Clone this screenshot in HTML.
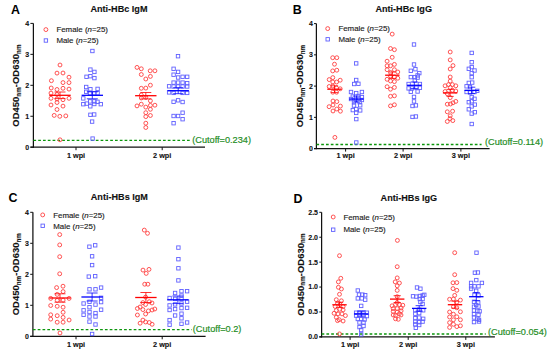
<!DOCTYPE html>
<html><head><meta charset="utf-8"><title>figure</title>
<style>
html,body{margin:0;padding:0;background:#fff;}
body{width:550px;height:353px;overflow:hidden;}
svg{display:block;}
text{font-family:"Liberation Sans",sans-serif;}
.pl{font-size:12.4px;font-weight:bold;fill:#000;}
.ti{font-size:9.1px;font-weight:bold;fill:#111;stroke:#111;stroke-width:0.12px;}
.tk{font-size:7px;font-weight:bold;fill:#111;stroke:#111;stroke-width:0.1px;}
.xl{font-size:7.3px;font-weight:bold;fill:#111;stroke:#111;stroke-width:0.12px;}
.ct{font-size:9.2px;fill:#1e8c1e;stroke:#1e8c1e;stroke-width:0.18px;}
.lg{font-size:7.9px;fill:#222;stroke:#222;stroke-width:0.15px;}
.yt{font-size:9.5px;font-weight:bold;fill:#111;stroke:#111;stroke-width:0.1px;}
.sub{font-size:6.3px;}
</style></head>
<body>
<svg width="550" height="353" viewBox="0 0 550 353">
<rect width="550" height="353" fill="#fff"/>
<line x1="33.4" y1="23.40" x2="33.4" y2="147.80" stroke="#111" stroke-width="1.25"/>
<line x1="30.4" y1="147.2" x2="205.0" y2="147.2" stroke="#111" stroke-width="1.3"/>
<line x1="30.4" y1="147.20" x2="33.4" y2="147.20" stroke="#111" stroke-width="1.0"/>
<text x="29.10" y="149.60" class="tk" text-anchor="end">0</text>
<line x1="30.4" y1="116.25" x2="33.4" y2="116.25" stroke="#111" stroke-width="1.0"/>
<text x="29.10" y="118.65" class="tk" text-anchor="end">1</text>
<line x1="30.4" y1="85.30" x2="33.4" y2="85.30" stroke="#111" stroke-width="1.0"/>
<text x="29.10" y="87.70" class="tk" text-anchor="end">2</text>
<line x1="30.4" y1="54.35" x2="33.4" y2="54.35" stroke="#111" stroke-width="1.0"/>
<text x="29.10" y="56.75" class="tk" text-anchor="end">3</text>
<line x1="30.4" y1="23.40" x2="33.4" y2="23.40" stroke="#111" stroke-width="1.0"/>
<text x="29.10" y="25.80" class="tk" text-anchor="end">4</text>
<line x1="76.0" y1="147.2" x2="76.0" y2="150.2" stroke="#111" stroke-width="1.0"/>
<text x="76.0" y="157.7" class="xl" text-anchor="middle">1 wpi</text>
<line x1="162.2" y1="147.2" x2="162.2" y2="150.2" stroke="#111" stroke-width="1.0"/>
<text x="162.2" y="157.7" class="xl" text-anchor="middle">2 wpi</text>
<line x1="33.4" y1="140.30" x2="191.5" y2="140.30" stroke="#0c960c" stroke-width="1.3" stroke-dasharray="2.7 2.1"/>
<text x="192.2" y="142.5" class="ct">(Cutoff=0.234)</text>
<line x1="316.4" y1="23.60" x2="316.4" y2="149.20" stroke="#111" stroke-width="1.25"/>
<line x1="314.0" y1="148.6" x2="489.6" y2="148.6" stroke="#111" stroke-width="1.3"/>
<line x1="314.0" y1="148.60" x2="316.4" y2="148.60" stroke="#111" stroke-width="1.0"/>
<text x="312.80" y="151.00" class="tk" text-anchor="end">0</text>
<line x1="314.0" y1="117.35" x2="316.4" y2="117.35" stroke="#111" stroke-width="1.0"/>
<text x="312.80" y="119.75" class="tk" text-anchor="end">1</text>
<line x1="314.0" y1="86.10" x2="316.4" y2="86.10" stroke="#111" stroke-width="1.0"/>
<text x="312.80" y="88.50" class="tk" text-anchor="end">2</text>
<line x1="314.0" y1="54.85" x2="316.4" y2="54.85" stroke="#111" stroke-width="1.0"/>
<text x="312.80" y="57.25" class="tk" text-anchor="end">3</text>
<line x1="314.0" y1="23.60" x2="316.4" y2="23.60" stroke="#111" stroke-width="1.0"/>
<text x="312.80" y="26.00" class="tk" text-anchor="end">4</text>
<line x1="345.6" y1="148.6" x2="345.6" y2="151.6" stroke="#111" stroke-width="1.0"/>
<text x="345.6" y="158.1" class="xl" text-anchor="middle">1 wpi</text>
<line x1="403.1" y1="148.6" x2="403.1" y2="151.6" stroke="#111" stroke-width="1.0"/>
<text x="403.1" y="158.1" class="xl" text-anchor="middle">2 wpi</text>
<line x1="460.9" y1="148.6" x2="460.9" y2="151.6" stroke="#111" stroke-width="1.0"/>
<text x="460.9" y="158.1" class="xl" text-anchor="middle">3 wpi</text>
<line x1="316.4" y1="144.50" x2="481.6" y2="144.50" stroke="#0c960c" stroke-width="1.3" stroke-dasharray="2.7 2.1"/>
<text x="485.0" y="145.4" class="ct">(Cutoff=0.114)</text>
<line x1="32.9" y1="212.30" x2="32.9" y2="336.90" stroke="#111" stroke-width="1.25"/>
<line x1="30.2" y1="336.3" x2="205.6" y2="336.3" stroke="#111" stroke-width="1.3"/>
<line x1="30.2" y1="336.30" x2="32.9" y2="336.30" stroke="#111" stroke-width="1.0"/>
<text x="28.90" y="338.70" class="tk" text-anchor="end">0</text>
<line x1="30.2" y1="305.30" x2="32.9" y2="305.30" stroke="#111" stroke-width="1.0"/>
<text x="28.90" y="307.70" class="tk" text-anchor="end">1</text>
<line x1="30.2" y1="274.30" x2="32.9" y2="274.30" stroke="#111" stroke-width="1.0"/>
<text x="28.90" y="276.70" class="tk" text-anchor="end">2</text>
<line x1="30.2" y1="243.30" x2="32.9" y2="243.30" stroke="#111" stroke-width="1.0"/>
<text x="28.90" y="245.70" class="tk" text-anchor="end">3</text>
<line x1="30.2" y1="212.30" x2="32.9" y2="212.30" stroke="#111" stroke-width="1.0"/>
<text x="28.90" y="214.70" class="tk" text-anchor="end">4</text>
<line x1="76.0" y1="336.3" x2="76.0" y2="339.3" stroke="#111" stroke-width="1.0"/>
<text x="76.0" y="347.2" class="xl" text-anchor="middle">1 wpi</text>
<line x1="162.2" y1="336.3" x2="162.2" y2="339.3" stroke="#111" stroke-width="1.0"/>
<text x="162.2" y="347.2" class="xl" text-anchor="middle">2 wpi</text>
<line x1="32.9" y1="329.70" x2="191.8" y2="329.70" stroke="#0c960c" stroke-width="1.3" stroke-dasharray="2.7 2.1"/>
<text x="192.8" y="332.4" class="ct">(Cutoff=0.2)</text>
<line x1="321.6" y1="212.30" x2="321.6" y2="337.50" stroke="#111" stroke-width="1.25"/>
<line x1="319.3" y1="336.9" x2="494.9" y2="336.9" stroke="#111" stroke-width="1.3"/>
<line x1="319.3" y1="336.90" x2="321.6" y2="336.90" stroke="#111" stroke-width="1.0"/>
<text x="318.00" y="339.30" class="tk" text-anchor="end">0.0</text>
<line x1="319.3" y1="311.98" x2="321.6" y2="311.98" stroke="#111" stroke-width="1.0"/>
<text x="318.00" y="314.38" class="tk" text-anchor="end">0.5</text>
<line x1="319.3" y1="287.06" x2="321.6" y2="287.06" stroke="#111" stroke-width="1.0"/>
<text x="318.00" y="289.46" class="tk" text-anchor="end">1.0</text>
<line x1="319.3" y1="262.14" x2="321.6" y2="262.14" stroke="#111" stroke-width="1.0"/>
<text x="318.00" y="264.54" class="tk" text-anchor="end">1.5</text>
<line x1="319.3" y1="237.22" x2="321.6" y2="237.22" stroke="#111" stroke-width="1.0"/>
<text x="318.00" y="239.62" class="tk" text-anchor="end">2.0</text>
<line x1="319.3" y1="212.30" x2="321.6" y2="212.30" stroke="#111" stroke-width="1.0"/>
<text x="318.00" y="214.70" class="tk" text-anchor="end">2.5</text>
<line x1="350.1" y1="336.9" x2="350.1" y2="339.9" stroke="#111" stroke-width="1.0"/>
<text x="350.1" y="346.6" class="xl" text-anchor="middle">1 wpi</text>
<line x1="408.2" y1="336.9" x2="408.2" y2="339.9" stroke="#111" stroke-width="1.0"/>
<text x="408.2" y="346.6" class="xl" text-anchor="middle">2 wpi</text>
<line x1="465.8" y1="336.9" x2="465.8" y2="339.9" stroke="#111" stroke-width="1.0"/>
<text x="465.8" y="346.6" class="xl" text-anchor="middle">3 wpi</text>
<line x1="321.6" y1="334.00" x2="485.7" y2="334.00" stroke="#0c960c" stroke-width="1.3" stroke-dasharray="2.7 2.1"/>
<text x="488.0" y="334.5" class="ct">(Cutoff=0.054)</text>
<text x="10.9" y="14.0" class="pl">A</text>
<text x="292.8" y="13.6" class="pl">B</text>
<text x="8.6" y="202.2" class="pl">C</text>
<text x="293.5" y="202.9" class="pl">D</text>
<text x="90.4" y="11.6" class="ti">Anti-HBc IgM</text>
<text x="375.4" y="11.6" class="ti">Anti-HBc IgG</text>
<text x="90.8" y="200.3" class="ti">Anti-HBs IgM</text>
<text x="380.6" y="200.7" class="ti">Anti-HBs IgG</text>
<text transform="translate(19.3,85.6) rotate(-90)" text-anchor="middle" class="yt">OD450<tspan class="sub" dy="1.6">nm</tspan><tspan dy="-1.6">-OD630</tspan><tspan class="sub" dy="1.6">nm</tspan></text>
<text transform="translate(303.0,86.0) rotate(-90)" text-anchor="middle" class="yt">OD450<tspan class="sub" dy="1.6">nm</tspan><tspan dy="-1.6">-OD630</tspan><tspan class="sub" dy="1.6">nm</tspan></text>
<text transform="translate(19.4,274.2) rotate(-90)" text-anchor="middle" class="yt">OD450<tspan class="sub" dy="1.6">nm</tspan><tspan dy="-1.6">-OD630</tspan><tspan class="sub" dy="1.6">nm</tspan></text>
<text transform="translate(303.8,274.6) rotate(-90)" text-anchor="middle" class="yt">OD450<tspan class="sub" dy="1.6">nm</tspan><tspan dy="-1.6">-OD630</tspan><tspan class="sub" dy="1.6">nm</tspan></text>
<g fill="none" stroke="#ff4040" stroke-width="0.9"><circle cx="45.90" cy="29.60" r="1.95"/></g><g fill="none" stroke="#6060ff" stroke-width="0.9"><rect x="44.20" y="38.80" width="3.4" height="3.4"/></g><text x="56.4" y="31.8" class="lg">Female (<tspan font-style="italic">n</tspan>=25)</text><text x="56.4" y="42.7" class="lg">Male (<tspan font-style="italic">n</tspan>=25)</text>
<g fill="none" stroke="#ff4040" stroke-width="0.9"><circle cx="327.70" cy="28.60" r="1.95"/></g><g fill="none" stroke="#6060ff" stroke-width="0.9"><rect x="326.00" y="37.60" width="3.4" height="3.4"/></g><text x="338.4" y="30.9" class="lg">Female (<tspan font-style="italic">n</tspan>=25)</text><text x="338.4" y="41.5" class="lg">Male (<tspan font-style="italic">n</tspan>=25)</text>
<g fill="none" stroke="#ff4040" stroke-width="0.9"><circle cx="42.70" cy="214.90" r="1.95"/></g><g fill="none" stroke="#6060ff" stroke-width="0.9"><rect x="41.00" y="224.10" width="3.4" height="3.4"/></g><text x="53.2" y="217.5" class="lg">Female (<tspan font-style="italic">n</tspan>=25)</text><text x="53.2" y="228.5" class="lg">Male (<tspan font-style="italic">n</tspan>=25)</text>
<g fill="none" stroke="#ff4040" stroke-width="0.9"><circle cx="333.20" cy="217.00" r="1.95"/></g><g fill="none" stroke="#6060ff" stroke-width="0.9"><rect x="331.50" y="228.00" width="3.4" height="3.4"/></g><text x="343.4" y="219.8" class="lg">Female (<tspan font-style="italic">n</tspan>=25)</text><text x="343.4" y="232.1" class="lg">Male (<tspan font-style="italic">n</tspan>=25)</text>
<g fill="none" stroke="#ff4040" stroke-width="0.9"><circle cx="60.00" cy="65.00" r="1.95"/><circle cx="57.00" cy="73.10" r="1.95"/><circle cx="63.00" cy="73.00" r="1.95"/><circle cx="69.00" cy="77.20" r="1.95"/><circle cx="51.40" cy="80.70" r="1.95"/><circle cx="63.00" cy="82.60" r="1.95"/><circle cx="69.00" cy="82.60" r="1.95"/><circle cx="51.20" cy="88.00" r="1.95"/><circle cx="57.00" cy="89.50" r="1.95"/><circle cx="63.00" cy="88.30" r="1.95"/><circle cx="69.00" cy="89.10" r="1.95"/><circle cx="51.00" cy="93.10" r="1.95"/><circle cx="51.00" cy="98.30" r="1.95"/><circle cx="57.00" cy="99.00" r="1.95"/><circle cx="63.00" cy="99.70" r="1.95"/><circle cx="69.00" cy="98.30" r="1.95"/><circle cx="57.00" cy="102.50" r="1.95"/><circle cx="51.00" cy="105.00" r="1.95"/><circle cx="63.00" cy="106.10" r="1.95"/><circle cx="57.00" cy="109.50" r="1.95"/><circle cx="54.20" cy="115.40" r="1.95"/><circle cx="59.80" cy="116.30" r="1.95"/><circle cx="65.80" cy="115.90" r="1.95"/><circle cx="60.00" cy="139.80" r="1.95"/><circle cx="57.00" cy="94.50" r="1.95"/><circle cx="137.00" cy="67.40" r="1.95"/><circle cx="141.30" cy="68.80" r="1.95"/><circle cx="150.20" cy="70.80" r="1.95"/><circle cx="154.90" cy="70.80" r="1.95"/><circle cx="141.30" cy="74.50" r="1.95"/><circle cx="150.40" cy="76.40" r="1.95"/><circle cx="145.80" cy="79.00" r="1.95"/><circle cx="150.40" cy="85.20" r="1.95"/><circle cx="141.30" cy="88.30" r="1.95"/><circle cx="145.80" cy="88.10" r="1.95"/><circle cx="141.30" cy="98.00" r="1.95"/><circle cx="145.80" cy="97.50" r="1.95"/><circle cx="150.40" cy="100.80" r="1.95"/><circle cx="141.30" cy="104.20" r="1.95"/><circle cx="137.00" cy="105.90" r="1.95"/><circle cx="145.80" cy="107.10" r="1.95"/><circle cx="150.40" cy="105.40" r="1.95"/><circle cx="154.90" cy="105.20" r="1.95"/><circle cx="150.40" cy="109.30" r="1.95"/><circle cx="145.80" cy="112.70" r="1.95"/><circle cx="145.80" cy="116.60" r="1.95"/><circle cx="150.40" cy="115.50" r="1.95"/><circle cx="145.80" cy="123.20" r="1.95"/><circle cx="145.80" cy="127.50" r="1.95"/><circle cx="141.30" cy="95.00" r="1.95"/><circle cx="332.70" cy="57.70" r="1.95"/><circle cx="336.80" cy="57.70" r="1.95"/><circle cx="334.50" cy="64.20" r="1.95"/><circle cx="332.70" cy="70.90" r="1.95"/><circle cx="336.80" cy="70.20" r="1.95"/><circle cx="332.80" cy="77.60" r="1.95"/><circle cx="329.20" cy="79.60" r="1.95"/><circle cx="340.20" cy="80.20" r="1.95"/><circle cx="332.80" cy="82.00" r="1.95"/><circle cx="336.60" cy="82.00" r="1.95"/><circle cx="329.20" cy="86.50" r="1.95"/><circle cx="332.80" cy="86.00" r="1.95"/><circle cx="336.60" cy="88.00" r="1.95"/><circle cx="340.20" cy="88.80" r="1.95"/><circle cx="332.80" cy="92.20" r="1.95"/><circle cx="336.60" cy="92.20" r="1.95"/><circle cx="333.00" cy="101.00" r="1.95"/><circle cx="336.80" cy="101.60" r="1.95"/><circle cx="329.10" cy="106.70" r="1.95"/><circle cx="333.00" cy="105.00" r="1.95"/><circle cx="340.40" cy="106.10" r="1.95"/><circle cx="336.80" cy="109.00" r="1.95"/><circle cx="333.00" cy="111.00" r="1.95"/><circle cx="340.40" cy="111.20" r="1.95"/><circle cx="334.90" cy="137.40" r="1.95"/><circle cx="392.20" cy="34.10" r="1.95"/><circle cx="390.50" cy="48.50" r="1.95"/><circle cx="394.40" cy="49.70" r="1.95"/><circle cx="392.20" cy="57.30" r="1.95"/><circle cx="387.10" cy="61.20" r="1.95"/><circle cx="394.40" cy="64.40" r="1.95"/><circle cx="387.10" cy="65.80" r="1.95"/><circle cx="390.50" cy="65.80" r="1.95"/><circle cx="387.10" cy="69.70" r="1.95"/><circle cx="394.40" cy="69.70" r="1.95"/><circle cx="390.50" cy="72.50" r="1.95"/><circle cx="397.80" cy="72.00" r="1.95"/><circle cx="394.40" cy="77.10" r="1.95"/><circle cx="397.80" cy="78.20" r="1.95"/><circle cx="387.10" cy="79.30" r="1.95"/><circle cx="390.50" cy="81.00" r="1.95"/><circle cx="394.40" cy="81.60" r="1.95"/><circle cx="387.10" cy="86.70" r="1.95"/><circle cx="390.50" cy="89.20" r="1.95"/><circle cx="394.40" cy="87.40" r="1.95"/><circle cx="390.50" cy="96.30" r="1.95"/><circle cx="394.40" cy="95.80" r="1.95"/><circle cx="390.50" cy="105.90" r="1.95"/><circle cx="394.40" cy="104.80" r="1.95"/><circle cx="390.50" cy="76.00" r="1.95"/><circle cx="450.20" cy="52.00" r="1.95"/><circle cx="450.20" cy="59.90" r="1.95"/><circle cx="453.00" cy="65.60" r="1.95"/><circle cx="450.20" cy="69.00" r="1.95"/><circle cx="450.20" cy="77.00" r="1.95"/><circle cx="450.20" cy="81.10" r="1.95"/><circle cx="445.10" cy="85.80" r="1.95"/><circle cx="448.50" cy="84.60" r="1.95"/><circle cx="452.40" cy="84.60" r="1.95"/><circle cx="455.80" cy="85.80" r="1.95"/><circle cx="450.20" cy="87.50" r="1.95"/><circle cx="452.40" cy="90.30" r="1.95"/><circle cx="447.30" cy="93.70" r="1.95"/><circle cx="450.20" cy="97.60" r="1.95"/><circle cx="447.30" cy="104.20" r="1.95"/><circle cx="450.50" cy="104.00" r="1.95"/><circle cx="453.00" cy="102.80" r="1.95"/><circle cx="455.80" cy="101.40" r="1.95"/><circle cx="447.30" cy="111.80" r="1.95"/><circle cx="452.60" cy="111.20" r="1.95"/><circle cx="450.20" cy="115.80" r="1.95"/><circle cx="447.30" cy="121.50" r="1.95"/><circle cx="452.80" cy="120.60" r="1.95"/><circle cx="445.10" cy="91.50" r="1.95"/><circle cx="455.80" cy="91.00" r="1.95"/><circle cx="450.00" cy="118.60" r="1.95"/><circle cx="59.70" cy="234.60" r="1.95"/><circle cx="59.70" cy="244.90" r="1.95"/><circle cx="59.70" cy="256.70" r="1.95"/><circle cx="59.70" cy="273.80" r="1.95"/><circle cx="56.60" cy="287.60" r="1.95"/><circle cx="63.00" cy="286.20" r="1.95"/><circle cx="63.10" cy="291.60" r="1.95"/><circle cx="57.20" cy="294.40" r="1.95"/><circle cx="50.70" cy="298.40" r="1.95"/><circle cx="69.10" cy="298.40" r="1.95"/><circle cx="57.20" cy="300.40" r="1.95"/><circle cx="63.10" cy="300.10" r="1.95"/><circle cx="50.70" cy="305.50" r="1.95"/><circle cx="57.20" cy="306.30" r="1.95"/><circle cx="63.10" cy="307.20" r="1.95"/><circle cx="63.10" cy="312.30" r="1.95"/><circle cx="50.70" cy="314.80" r="1.95"/><circle cx="57.20" cy="315.70" r="1.95"/><circle cx="63.10" cy="317.40" r="1.95"/><circle cx="50.70" cy="319.10" r="1.95"/><circle cx="69.10" cy="320.00" r="1.95"/><circle cx="57.20" cy="322.20" r="1.95"/><circle cx="63.10" cy="322.20" r="1.95"/><circle cx="60.00" cy="333.00" r="1.95"/><circle cx="144.30" cy="230.10" r="1.95"/><circle cx="147.50" cy="233.30" r="1.95"/><circle cx="143.00" cy="270.10" r="1.95"/><circle cx="149.00" cy="269.40" r="1.95"/><circle cx="146.20" cy="273.40" r="1.95"/><circle cx="144.70" cy="284.20" r="1.95"/><circle cx="147.90" cy="284.20" r="1.95"/><circle cx="145.60" cy="297.10" r="1.95"/><circle cx="142.90" cy="302.60" r="1.95"/><circle cx="149.30" cy="301.70" r="1.95"/><circle cx="145.60" cy="304.50" r="1.95"/><circle cx="137.40" cy="308.50" r="1.95"/><circle cx="142.90" cy="309.60" r="1.95"/><circle cx="148.40" cy="310.90" r="1.95"/><circle cx="152.10" cy="310.00" r="1.95"/><circle cx="154.80" cy="309.00" r="1.95"/><circle cx="140.10" cy="307.00" r="1.95"/><circle cx="142.90" cy="320.10" r="1.95"/><circle cx="145.60" cy="322.00" r="1.95"/><circle cx="149.30" cy="322.50" r="1.95"/><circle cx="152.10" cy="324.30" r="1.95"/><circle cx="140.10" cy="323.20" r="1.95"/><circle cx="145.60" cy="314.00" r="1.95"/><circle cx="137.40" cy="315.00" r="1.95"/><circle cx="152.00" cy="303.00" r="1.95"/><circle cx="339.50" cy="255.70" r="1.95"/><circle cx="340.80" cy="278.30" r="1.95"/><circle cx="338.40" cy="281.90" r="1.95"/><circle cx="338.40" cy="287.30" r="1.95"/><circle cx="341.40" cy="289.00" r="1.95"/><circle cx="339.50" cy="294.30" r="1.95"/><circle cx="336.30" cy="299.70" r="1.95"/><circle cx="341.40" cy="300.80" r="1.95"/><circle cx="337.50" cy="303.10" r="1.95"/><circle cx="335.20" cy="306.50" r="1.95"/><circle cx="343.10" cy="306.50" r="1.95"/><circle cx="336.30" cy="310.50" r="1.95"/><circle cx="339.70" cy="309.30" r="1.95"/><circle cx="343.10" cy="309.90" r="1.95"/><circle cx="334.10" cy="313.30" r="1.95"/><circle cx="338.00" cy="313.90" r="1.95"/><circle cx="342.00" cy="313.90" r="1.95"/><circle cx="345.40" cy="315.60" r="1.95"/><circle cx="336.30" cy="317.30" r="1.95"/><circle cx="339.20" cy="319.70" r="1.95"/><circle cx="343.10" cy="321.00" r="1.95"/><circle cx="337.50" cy="320.60" r="1.95"/><circle cx="339.50" cy="333.90" r="1.95"/><circle cx="340.00" cy="304.50" r="1.95"/><circle cx="397.40" cy="240.40" r="1.95"/><circle cx="397.20" cy="266.70" r="1.95"/><circle cx="397.20" cy="277.90" r="1.95"/><circle cx="395.20" cy="281.90" r="1.95"/><circle cx="399.40" cy="283.00" r="1.95"/><circle cx="397.20" cy="285.80" r="1.95"/><circle cx="397.20" cy="290.40" r="1.95"/><circle cx="397.20" cy="296.70" r="1.95"/><circle cx="392.10" cy="305.80" r="1.95"/><circle cx="395.50" cy="304.60" r="1.95"/><circle cx="399.40" cy="304.60" r="1.95"/><circle cx="402.80" cy="305.20" r="1.95"/><circle cx="393.20" cy="308.60" r="1.95"/><circle cx="397.20" cy="308.60" r="1.95"/><circle cx="401.10" cy="308.00" r="1.95"/><circle cx="393.20" cy="311.40" r="1.95"/><circle cx="397.20" cy="312.00" r="1.95"/><circle cx="401.10" cy="310.80" r="1.95"/><circle cx="399.40" cy="313.70" r="1.95"/><circle cx="395.50" cy="318.80" r="1.95"/><circle cx="398.30" cy="319.30" r="1.95"/><circle cx="393.20" cy="315.00" r="1.95"/><circle cx="401.00" cy="315.00" r="1.95"/><circle cx="397.20" cy="302.50" r="1.95"/><circle cx="395.50" cy="315.50" r="1.95"/><circle cx="454.70" cy="252.70" r="1.95"/><circle cx="454.70" cy="274.70" r="1.95"/><circle cx="453.00" cy="282.80" r="1.95"/><circle cx="456.80" cy="282.60" r="1.95"/><circle cx="453.00" cy="288.60" r="1.95"/><circle cx="456.80" cy="290.30" r="1.95"/><circle cx="454.70" cy="295.40" r="1.95"/><circle cx="449.60" cy="299.30" r="1.95"/><circle cx="453.40" cy="299.00" r="1.95"/><circle cx="460.40" cy="300.10" r="1.95"/><circle cx="456.80" cy="302.20" r="1.95"/><circle cx="453.40" cy="306.70" r="1.95"/><circle cx="456.80" cy="307.80" r="1.95"/><circle cx="449.60" cy="312.00" r="1.95"/><circle cx="460.40" cy="311.80" r="1.95"/><circle cx="453.40" cy="314.20" r="1.95"/><circle cx="456.80" cy="316.80" r="1.95"/><circle cx="449.60" cy="317.00" r="1.95"/><circle cx="460.40" cy="319.80" r="1.95"/><circle cx="453.40" cy="319.80" r="1.95"/><circle cx="449.60" cy="322.60" r="1.95"/><circle cx="453.40" cy="324.30" r="1.95"/><circle cx="456.80" cy="326.60" r="1.95"/><circle cx="460.40" cy="325.80" r="1.95"/><circle cx="449.60" cy="327.40" r="1.95"/></g>
<g fill="none" stroke="#6060ff" stroke-width="0.9"><rect x="90.70" y="49.30" width="3.4" height="3.4"/><rect x="88.70" y="67.90" width="3.4" height="3.4"/><rect x="92.70" y="70.20" width="3.4" height="3.4"/><rect x="84.80" y="75.10" width="3.4" height="3.4"/><rect x="88.70" y="74.50" width="3.4" height="3.4"/><rect x="92.70" y="76.40" width="3.4" height="3.4"/><rect x="84.50" y="85.30" width="3.4" height="3.4"/><rect x="88.70" y="87.50" width="3.4" height="3.4"/><rect x="95.90" y="87.20" width="3.4" height="3.4"/><rect x="84.50" y="90.10" width="3.4" height="3.4"/><rect x="88.30" y="91.50" width="3.4" height="3.4"/><rect x="92.60" y="91.50" width="3.4" height="3.4"/><rect x="95.90" y="91.50" width="3.4" height="3.4"/><rect x="81.60" y="96.70" width="3.4" height="3.4"/><rect x="88.50" y="99.70" width="3.4" height="3.4"/><rect x="92.60" y="99.70" width="3.4" height="3.4"/><rect x="95.80" y="100.10" width="3.4" height="3.4"/><rect x="81.60" y="102.50" width="3.4" height="3.4"/><rect x="85.10" y="101.90" width="3.4" height="3.4"/><rect x="92.60" y="102.30" width="3.4" height="3.4"/><rect x="99.10" y="102.50" width="3.4" height="3.4"/><rect x="88.60" y="104.60" width="3.4" height="3.4"/><rect x="88.70" y="113.10" width="3.4" height="3.4"/><rect x="92.50" y="112.80" width="3.4" height="3.4"/><rect x="90.40" y="119.90" width="3.4" height="3.4"/><rect x="90.90" y="136.90" width="3.4" height="3.4"/><rect x="171.90" y="67.10" width="3.4" height="3.4"/><rect x="176.40" y="70.20" width="3.4" height="3.4"/><rect x="171.90" y="73.00" width="3.4" height="3.4"/><rect x="176.40" y="75.80" width="3.4" height="3.4"/><rect x="180.90" y="75.10" width="3.4" height="3.4"/><rect x="185.50" y="75.10" width="3.4" height="3.4"/><rect x="171.90" y="80.90" width="3.4" height="3.4"/><rect x="176.40" y="80.90" width="3.4" height="3.4"/><rect x="180.90" y="80.90" width="3.4" height="3.4"/><rect x="185.50" y="81.50" width="3.4" height="3.4"/><rect x="167.40" y="84.60" width="3.4" height="3.4"/><rect x="171.90" y="84.80" width="3.4" height="3.4"/><rect x="176.40" y="84.80" width="3.4" height="3.4"/><rect x="180.90" y="84.80" width="3.4" height="3.4"/><rect x="185.50" y="84.80" width="3.4" height="3.4"/><rect x="167.40" y="90.70" width="3.4" height="3.4"/><rect x="171.90" y="91.20" width="3.4" height="3.4"/><rect x="180.90" y="91.20" width="3.4" height="3.4"/><rect x="185.50" y="91.20" width="3.4" height="3.4"/><rect x="171.90" y="100.10" width="3.4" height="3.4"/><rect x="176.40" y="98.60" width="3.4" height="3.4"/><rect x="180.90" y="100.30" width="3.4" height="3.4"/><rect x="171.90" y="114.30" width="3.4" height="3.4"/><rect x="176.40" y="114.30" width="3.4" height="3.4"/><rect x="180.90" y="111.00" width="3.4" height="3.4"/><rect x="180.90" y="117.50" width="3.4" height="3.4"/><rect x="171.90" y="121.50" width="3.4" height="3.4"/><rect x="176.30" y="54.50" width="3.4" height="3.4"/><rect x="354.50" y="61.70" width="3.4" height="3.4"/><rect x="354.50" y="78.30" width="3.4" height="3.4"/><rect x="352.50" y="82.30" width="3.4" height="3.4"/><rect x="356.70" y="82.10" width="3.4" height="3.4"/><rect x="349.30" y="90.30" width="3.4" height="3.4"/><rect x="354.50" y="91.40" width="3.4" height="3.4"/><rect x="360.20" y="90.30" width="3.4" height="3.4"/><rect x="351.10" y="94.80" width="3.4" height="3.4"/><rect x="356.80" y="94.30" width="3.4" height="3.4"/><rect x="360.20" y="95.40" width="3.4" height="3.4"/><rect x="354.30" y="97.80" width="3.4" height="3.4"/><rect x="352.30" y="100.50" width="3.4" height="3.4"/><rect x="357.90" y="100.50" width="3.4" height="3.4"/><rect x="352.30" y="103.90" width="3.4" height="3.4"/><rect x="358.50" y="103.60" width="3.4" height="3.4"/><rect x="351.10" y="108.40" width="3.4" height="3.4"/><rect x="354.50" y="107.30" width="3.4" height="3.4"/><rect x="358.50" y="108.70" width="3.4" height="3.4"/><rect x="354.50" y="111.20" width="3.4" height="3.4"/><rect x="354.60" y="117.40" width="3.4" height="3.4"/><rect x="354.60" y="140.80" width="3.4" height="3.4"/><rect x="349.30" y="97.30" width="3.4" height="3.4"/><rect x="360.20" y="98.30" width="3.4" height="3.4"/><rect x="412.30" y="42.80" width="3.4" height="3.4"/><rect x="412.30" y="62.80" width="3.4" height="3.4"/><rect x="409.10" y="69.10" width="3.4" height="3.4"/><rect x="413.70" y="67.50" width="3.4" height="3.4"/><rect x="417.60" y="71.40" width="3.4" height="3.4"/><rect x="415.90" y="73.70" width="3.4" height="3.4"/><rect x="409.10" y="75.40" width="3.4" height="3.4"/><rect x="413.10" y="75.40" width="3.4" height="3.4"/><rect x="415.90" y="75.90" width="3.4" height="3.4"/><rect x="413.10" y="78.80" width="3.4" height="3.4"/><rect x="406.90" y="86.70" width="3.4" height="3.4"/><rect x="410.30" y="86.70" width="3.4" height="3.4"/><rect x="414.80" y="86.10" width="3.4" height="3.4"/><rect x="418.20" y="86.10" width="3.4" height="3.4"/><rect x="409.10" y="90.10" width="3.4" height="3.4"/><rect x="415.90" y="89.80" width="3.4" height="3.4"/><rect x="412.30" y="95.20" width="3.4" height="3.4"/><rect x="412.30" y="99.70" width="3.4" height="3.4"/><rect x="410.80" y="104.30" width="3.4" height="3.4"/><rect x="414.20" y="103.70" width="3.4" height="3.4"/><rect x="410.80" y="115.20" width="3.4" height="3.4"/><rect x="414.20" y="114.80" width="3.4" height="3.4"/><rect x="406.90" y="82.30" width="3.4" height="3.4"/><rect x="418.20" y="82.30" width="3.4" height="3.4"/><rect x="470.00" y="51.20" width="3.4" height="3.4"/><rect x="470.00" y="60.50" width="3.4" height="3.4"/><rect x="470.00" y="65.40" width="3.4" height="3.4"/><rect x="467.10" y="67.10" width="3.4" height="3.4"/><rect x="472.80" y="68.80" width="3.4" height="3.4"/><rect x="470.00" y="71.40" width="3.4" height="3.4"/><rect x="470.00" y="75.50" width="3.4" height="3.4"/><rect x="467.10" y="81.20" width="3.4" height="3.4"/><rect x="470.50" y="80.90" width="3.4" height="3.4"/><rect x="464.90" y="84.60" width="3.4" height="3.4"/><rect x="468.30" y="85.30" width="3.4" height="3.4"/><rect x="464.90" y="90.30" width="3.4" height="3.4"/><rect x="468.30" y="90.80" width="3.4" height="3.4"/><rect x="472.80" y="90.30" width="3.4" height="3.4"/><rect x="475.60" y="89.10" width="3.4" height="3.4"/><rect x="470.00" y="95.40" width="3.4" height="3.4"/><rect x="472.80" y="97.10" width="3.4" height="3.4"/><rect x="467.10" y="100.50" width="3.4" height="3.4"/><rect x="470.00" y="99.60" width="3.4" height="3.4"/><rect x="473.10" y="102.90" width="3.4" height="3.4"/><rect x="470.00" y="104.70" width="3.4" height="3.4"/><rect x="467.10" y="107.60" width="3.4" height="3.4"/><rect x="473.10" y="110.50" width="3.4" height="3.4"/><rect x="470.00" y="111.90" width="3.4" height="3.4"/><rect x="470.00" y="122.30" width="3.4" height="3.4"/><rect x="87.70" y="245.00" width="3.4" height="3.4"/><rect x="93.50" y="243.60" width="3.4" height="3.4"/><rect x="90.40" y="254.60" width="3.4" height="3.4"/><rect x="90.40" y="263.40" width="3.4" height="3.4"/><rect x="87.10" y="274.90" width="3.4" height="3.4"/><rect x="93.50" y="274.50" width="3.4" height="3.4"/><rect x="87.80" y="287.60" width="3.4" height="3.4"/><rect x="93.80" y="287.60" width="3.4" height="3.4"/><rect x="99.40" y="285.90" width="3.4" height="3.4"/><rect x="99.40" y="296.10" width="3.4" height="3.4"/><rect x="81.90" y="301.80" width="3.4" height="3.4"/><rect x="87.80" y="300.10" width="3.4" height="3.4"/><rect x="93.80" y="302.90" width="3.4" height="3.4"/><rect x="99.40" y="300.40" width="3.4" height="3.4"/><rect x="87.80" y="305.50" width="3.4" height="3.4"/><rect x="81.90" y="308.60" width="3.4" height="3.4"/><rect x="99.40" y="308.00" width="3.4" height="3.4"/><rect x="81.90" y="313.10" width="3.4" height="3.4"/><rect x="87.80" y="310.30" width="3.4" height="3.4"/><rect x="93.80" y="311.40" width="3.4" height="3.4"/><rect x="87.80" y="314.80" width="3.4" height="3.4"/><rect x="93.80" y="314.80" width="3.4" height="3.4"/><rect x="87.80" y="319.90" width="3.4" height="3.4"/><rect x="93.80" y="322.80" width="3.4" height="3.4"/><rect x="90.40" y="332.30" width="3.4" height="3.4"/><rect x="176.70" y="245.90" width="3.4" height="3.4"/><rect x="176.70" y="257.50" width="3.4" height="3.4"/><rect x="176.70" y="266.60" width="3.4" height="3.4"/><rect x="176.70" y="278.70" width="3.4" height="3.4"/><rect x="173.40" y="291.30" width="3.4" height="3.4"/><rect x="179.80" y="289.50" width="3.4" height="3.4"/><rect x="185.40" y="289.50" width="3.4" height="3.4"/><rect x="179.80" y="293.90" width="3.4" height="3.4"/><rect x="167.90" y="296.30" width="3.4" height="3.4"/><rect x="173.40" y="297.20" width="3.4" height="3.4"/><rect x="179.80" y="297.20" width="3.4" height="3.4"/><rect x="185.40" y="300.00" width="3.4" height="3.4"/><rect x="167.90" y="303.70" width="3.4" height="3.4"/><rect x="173.40" y="302.70" width="3.4" height="3.4"/><rect x="179.80" y="301.80" width="3.4" height="3.4"/><rect x="167.90" y="308.30" width="3.4" height="3.4"/><rect x="173.40" y="307.40" width="3.4" height="3.4"/><rect x="179.80" y="306.40" width="3.4" height="3.4"/><rect x="185.40" y="306.10" width="3.4" height="3.4"/><rect x="173.40" y="313.80" width="3.4" height="3.4"/><rect x="179.80" y="312.00" width="3.4" height="3.4"/><rect x="167.90" y="318.40" width="3.4" height="3.4"/><rect x="179.80" y="316.60" width="3.4" height="3.4"/><rect x="185.40" y="320.80" width="3.4" height="3.4"/><rect x="167.90" y="323.00" width="3.4" height="3.4"/><rect x="179.80" y="322.10" width="3.4" height="3.4"/><rect x="356.10" y="288.80" width="3.4" height="3.4"/><rect x="357.30" y="292.90" width="3.4" height="3.4"/><rect x="360.70" y="292.90" width="3.4" height="3.4"/><rect x="363.50" y="293.50" width="3.4" height="3.4"/><rect x="356.10" y="296.70" width="3.4" height="3.4"/><rect x="360.10" y="296.70" width="3.4" height="3.4"/><rect x="363.50" y="298.00" width="3.4" height="3.4"/><rect x="359.50" y="304.20" width="3.4" height="3.4"/><rect x="354.40" y="311.00" width="3.4" height="3.4"/><rect x="357.80" y="310.50" width="3.4" height="3.4"/><rect x="361.80" y="310.50" width="3.4" height="3.4"/><rect x="365.20" y="311.00" width="3.4" height="3.4"/><rect x="354.40" y="313.90" width="3.4" height="3.4"/><rect x="357.80" y="313.90" width="3.4" height="3.4"/><rect x="361.80" y="313.90" width="3.4" height="3.4"/><rect x="365.20" y="314.40" width="3.4" height="3.4"/><rect x="356.10" y="317.30" width="3.4" height="3.4"/><rect x="359.50" y="317.30" width="3.4" height="3.4"/><rect x="362.90" y="317.80" width="3.4" height="3.4"/><rect x="357.80" y="325.40" width="3.4" height="3.4"/><rect x="361.80" y="324.30" width="3.4" height="3.4"/><rect x="359.50" y="328.30" width="3.4" height="3.4"/><rect x="359.50" y="332.70" width="3.4" height="3.4"/><rect x="357.80" y="320.80" width="3.4" height="3.4"/><rect x="361.80" y="320.80" width="3.4" height="3.4"/><rect x="415.30" y="285.80" width="3.4" height="3.4"/><rect x="418.70" y="287.00" width="3.4" height="3.4"/><rect x="422.60" y="293.10" width="3.4" height="3.4"/><rect x="411.30" y="294.60" width="3.4" height="3.4"/><rect x="414.70" y="294.90" width="3.4" height="3.4"/><rect x="418.10" y="294.30" width="3.4" height="3.4"/><rect x="420.90" y="293.80" width="3.4" height="3.4"/><rect x="418.10" y="297.30" width="3.4" height="3.4"/><rect x="420.90" y="297.30" width="3.4" height="3.4"/><rect x="418.70" y="300.30" width="3.4" height="3.4"/><rect x="420.90" y="302.30" width="3.4" height="3.4"/><rect x="413.60" y="308.60" width="3.4" height="3.4"/><rect x="417.50" y="308.00" width="3.4" height="3.4"/><rect x="421.50" y="308.60" width="3.4" height="3.4"/><rect x="413.60" y="312.00" width="3.4" height="3.4"/><rect x="417.50" y="311.40" width="3.4" height="3.4"/><rect x="413.60" y="316.50" width="3.4" height="3.4"/><rect x="417.50" y="315.90" width="3.4" height="3.4"/><rect x="421.50" y="317.10" width="3.4" height="3.4"/><rect x="413.60" y="319.90" width="3.4" height="3.4"/><rect x="417.50" y="320.50" width="3.4" height="3.4"/><rect x="420.90" y="319.90" width="3.4" height="3.4"/><rect x="413.60" y="322.70" width="3.4" height="3.4"/><rect x="417.50" y="323.30" width="3.4" height="3.4"/><rect x="414.10" y="326.10" width="3.4" height="3.4"/><rect x="474.80" y="251.00" width="3.4" height="3.4"/><rect x="473.20" y="271.00" width="3.4" height="3.4"/><rect x="476.20" y="270.80" width="3.4" height="3.4"/><rect x="474.60" y="278.40" width="3.4" height="3.4"/><rect x="469.40" y="281.20" width="3.4" height="3.4"/><rect x="480.20" y="281.20" width="3.4" height="3.4"/><rect x="469.40" y="284.60" width="3.4" height="3.4"/><rect x="472.80" y="284.60" width="3.4" height="3.4"/><rect x="476.80" y="284.60" width="3.4" height="3.4"/><rect x="469.40" y="286.90" width="3.4" height="3.4"/><rect x="474.50" y="289.10" width="3.4" height="3.4"/><rect x="472.80" y="293.10" width="3.4" height="3.4"/><rect x="476.80" y="293.70" width="3.4" height="3.4"/><rect x="472.30" y="300.10" width="3.4" height="3.4"/><rect x="476.50" y="300.80" width="3.4" height="3.4"/><rect x="474.50" y="303.30" width="3.4" height="3.4"/><rect x="472.30" y="305.00" width="3.4" height="3.4"/><rect x="476.80" y="304.80" width="3.4" height="3.4"/><rect x="472.30" y="308.80" width="3.4" height="3.4"/><rect x="475.70" y="309.10" width="3.4" height="3.4"/><rect x="477.90" y="309.60" width="3.4" height="3.4"/><rect x="472.30" y="312.50" width="3.4" height="3.4"/><rect x="476.80" y="313.00" width="3.4" height="3.4"/><rect x="472.30" y="315.80" width="3.4" height="3.4"/><rect x="475.70" y="317.00" width="3.4" height="3.4"/><rect x="477.30" y="318.10" width="3.4" height="3.4"/><rect x="472.30" y="320.40" width="3.4" height="3.4"/><rect x="477.30" y="319.80" width="3.4" height="3.4"/></g>
<line x1="49.30" y1="95.30" x2="70.70" y2="95.30" stroke="#ff0000" stroke-width="1.3"/>
<line x1="60.00" y1="92.00" x2="60.00" y2="98.60" stroke="#ff0000" stroke-width="0.8"/>
<line x1="54.50" y1="92.00" x2="65.50" y2="92.00" stroke="#ff0000" stroke-width="0.8"/>
<line x1="54.50" y1="98.60" x2="65.50" y2="98.60" stroke="#ff0000" stroke-width="0.8"/>
<line x1="135.10" y1="95.70" x2="156.50" y2="95.70" stroke="#ff0000" stroke-width="1.3"/>
<line x1="145.80" y1="92.50" x2="145.80" y2="98.90" stroke="#ff0000" stroke-width="0.8"/>
<line x1="140.30" y1="92.50" x2="151.30" y2="92.50" stroke="#ff0000" stroke-width="0.8"/>
<line x1="140.30" y1="98.90" x2="151.30" y2="98.90" stroke="#ff0000" stroke-width="0.8"/>
<line x1="327.30" y1="89.20" x2="341.70" y2="89.20" stroke="#ff0000" stroke-width="1.3"/>
<line x1="334.50" y1="85.80" x2="334.50" y2="92.60" stroke="#ff0000" stroke-width="0.8"/>
<line x1="330.90" y1="85.80" x2="338.10" y2="85.80" stroke="#ff0000" stroke-width="0.8"/>
<line x1="330.90" y1="92.60" x2="338.10" y2="92.60" stroke="#ff0000" stroke-width="0.8"/>
<line x1="385.10" y1="75.20" x2="399.50" y2="75.20" stroke="#ff0000" stroke-width="1.3"/>
<line x1="392.30" y1="72.00" x2="392.30" y2="78.40" stroke="#ff0000" stroke-width="0.8"/>
<line x1="388.70" y1="72.00" x2="395.90" y2="72.00" stroke="#ff0000" stroke-width="0.8"/>
<line x1="388.70" y1="78.40" x2="395.90" y2="78.40" stroke="#ff0000" stroke-width="0.8"/>
<line x1="442.90" y1="92.90" x2="457.30" y2="92.90" stroke="#ff0000" stroke-width="1.3"/>
<line x1="450.10" y1="89.40" x2="450.10" y2="96.40" stroke="#ff0000" stroke-width="0.8"/>
<line x1="446.50" y1="89.40" x2="453.70" y2="89.40" stroke="#ff0000" stroke-width="0.8"/>
<line x1="446.50" y1="96.40" x2="453.70" y2="96.40" stroke="#ff0000" stroke-width="0.8"/>
<line x1="49.30" y1="298.00" x2="70.70" y2="298.00" stroke="#ff0000" stroke-width="1.3"/>
<line x1="60.00" y1="293.80" x2="60.00" y2="302.20" stroke="#ff0000" stroke-width="0.8"/>
<line x1="54.50" y1="293.80" x2="65.50" y2="293.80" stroke="#ff0000" stroke-width="0.8"/>
<line x1="54.50" y1="302.20" x2="65.50" y2="302.20" stroke="#ff0000" stroke-width="0.8"/>
<line x1="135.20" y1="297.50" x2="156.60" y2="297.50" stroke="#ff0000" stroke-width="1.3"/>
<line x1="145.90" y1="292.50" x2="145.90" y2="302.50" stroke="#ff0000" stroke-width="0.8"/>
<line x1="140.40" y1="292.50" x2="151.40" y2="292.50" stroke="#ff0000" stroke-width="0.8"/>
<line x1="140.40" y1="302.50" x2="151.40" y2="302.50" stroke="#ff0000" stroke-width="0.8"/>
<line x1="332.30" y1="304.80" x2="346.70" y2="304.80" stroke="#ff0000" stroke-width="1.3"/>
<line x1="339.50" y1="302.20" x2="339.50" y2="307.40" stroke="#ff0000" stroke-width="0.8"/>
<line x1="335.90" y1="302.20" x2="343.10" y2="302.20" stroke="#ff0000" stroke-width="0.8"/>
<line x1="335.90" y1="307.40" x2="343.10" y2="307.40" stroke="#ff0000" stroke-width="0.8"/>
<line x1="390.00" y1="299.10" x2="404.40" y2="299.10" stroke="#ff0000" stroke-width="1.3"/>
<line x1="397.20" y1="295.70" x2="397.20" y2="302.50" stroke="#ff0000" stroke-width="0.8"/>
<line x1="393.60" y1="295.70" x2="400.80" y2="295.70" stroke="#ff0000" stroke-width="0.8"/>
<line x1="393.60" y1="302.50" x2="400.80" y2="302.50" stroke="#ff0000" stroke-width="0.8"/>
<line x1="447.80" y1="304.70" x2="462.20" y2="304.70" stroke="#ff0000" stroke-width="1.3"/>
<line x1="455.00" y1="301.20" x2="455.00" y2="308.20" stroke="#ff0000" stroke-width="0.8"/>
<line x1="451.40" y1="301.20" x2="458.60" y2="301.20" stroke="#ff0000" stroke-width="0.8"/>
<line x1="451.40" y1="308.20" x2="458.60" y2="308.20" stroke="#ff0000" stroke-width="0.8"/>
<line x1="81.60" y1="95.30" x2="103.00" y2="95.30" stroke="#0000ff" stroke-width="1.3"/>
<line x1="92.30" y1="91.80" x2="92.30" y2="98.80" stroke="#0000ff" stroke-width="0.8"/>
<line x1="86.80" y1="91.80" x2="97.80" y2="91.80" stroke="#0000ff" stroke-width="0.8"/>
<line x1="86.80" y1="98.80" x2="97.80" y2="98.80" stroke="#0000ff" stroke-width="0.8"/>
<line x1="167.50" y1="90.70" x2="188.90" y2="90.70" stroke="#0000ff" stroke-width="1.3"/>
<line x1="178.20" y1="87.70" x2="178.20" y2="93.70" stroke="#0000ff" stroke-width="0.8"/>
<line x1="173.20" y1="87.70" x2="183.20" y2="87.70" stroke="#0000ff" stroke-width="0.8"/>
<line x1="173.20" y1="93.70" x2="183.20" y2="93.70" stroke="#0000ff" stroke-width="0.8"/>
<line x1="349.20" y1="99.10" x2="363.60" y2="99.10" stroke="#0000ff" stroke-width="1.3"/>
<line x1="356.40" y1="96.10" x2="356.40" y2="102.10" stroke="#0000ff" stroke-width="0.8"/>
<line x1="352.80" y1="96.10" x2="360.00" y2="96.10" stroke="#0000ff" stroke-width="0.8"/>
<line x1="352.80" y1="102.10" x2="360.00" y2="102.10" stroke="#0000ff" stroke-width="0.8"/>
<line x1="407.10" y1="85.30" x2="421.50" y2="85.30" stroke="#0000ff" stroke-width="1.3"/>
<line x1="414.30" y1="82.00" x2="414.30" y2="88.60" stroke="#0000ff" stroke-width="0.8"/>
<line x1="410.70" y1="82.00" x2="417.90" y2="82.00" stroke="#0000ff" stroke-width="0.8"/>
<line x1="410.70" y1="88.60" x2="417.90" y2="88.60" stroke="#0000ff" stroke-width="0.8"/>
<line x1="464.50" y1="90.40" x2="478.90" y2="90.40" stroke="#0000ff" stroke-width="1.3"/>
<line x1="471.70" y1="87.20" x2="471.70" y2="93.60" stroke="#0000ff" stroke-width="0.8"/>
<line x1="468.10" y1="87.20" x2="475.30" y2="87.20" stroke="#0000ff" stroke-width="0.8"/>
<line x1="468.10" y1="93.60" x2="475.30" y2="93.60" stroke="#0000ff" stroke-width="0.8"/>
<line x1="81.40" y1="297.00" x2="102.80" y2="297.00" stroke="#0000ff" stroke-width="1.3"/>
<line x1="92.10" y1="293.00" x2="92.10" y2="301.00" stroke="#0000ff" stroke-width="0.8"/>
<line x1="86.60" y1="293.00" x2="97.60" y2="293.00" stroke="#0000ff" stroke-width="0.8"/>
<line x1="86.60" y1="301.00" x2="97.60" y2="301.00" stroke="#0000ff" stroke-width="0.8"/>
<line x1="167.20" y1="299.80" x2="188.60" y2="299.80" stroke="#0000ff" stroke-width="1.3"/>
<line x1="177.90" y1="296.00" x2="177.90" y2="303.60" stroke="#0000ff" stroke-width="0.8"/>
<line x1="172.40" y1="296.00" x2="183.40" y2="296.00" stroke="#0000ff" stroke-width="0.8"/>
<line x1="172.40" y1="303.60" x2="183.40" y2="303.60" stroke="#0000ff" stroke-width="0.8"/>
<line x1="354.00" y1="313.90" x2="368.40" y2="313.90" stroke="#0000ff" stroke-width="1.3"/>
<line x1="361.20" y1="311.70" x2="361.20" y2="316.10" stroke="#0000ff" stroke-width="0.8"/>
<line x1="357.60" y1="311.70" x2="364.80" y2="311.70" stroke="#0000ff" stroke-width="0.8"/>
<line x1="357.60" y1="316.10" x2="364.80" y2="316.10" stroke="#0000ff" stroke-width="0.8"/>
<line x1="412.00" y1="308.40" x2="426.40" y2="308.40" stroke="#0000ff" stroke-width="1.3"/>
<line x1="419.20" y1="305.70" x2="419.20" y2="311.10" stroke="#0000ff" stroke-width="0.8"/>
<line x1="415.60" y1="305.70" x2="422.80" y2="305.70" stroke="#0000ff" stroke-width="0.8"/>
<line x1="415.60" y1="311.10" x2="422.80" y2="311.10" stroke="#0000ff" stroke-width="0.8"/>
<line x1="469.10" y1="296.70" x2="483.50" y2="296.70" stroke="#0000ff" stroke-width="1.3"/>
<line x1="476.30" y1="292.70" x2="476.30" y2="300.70" stroke="#0000ff" stroke-width="0.8"/>
<line x1="472.70" y1="292.70" x2="479.90" y2="292.70" stroke="#0000ff" stroke-width="0.8"/>
<line x1="472.70" y1="300.70" x2="479.90" y2="300.70" stroke="#0000ff" stroke-width="0.8"/>
</svg>
</body></html>
